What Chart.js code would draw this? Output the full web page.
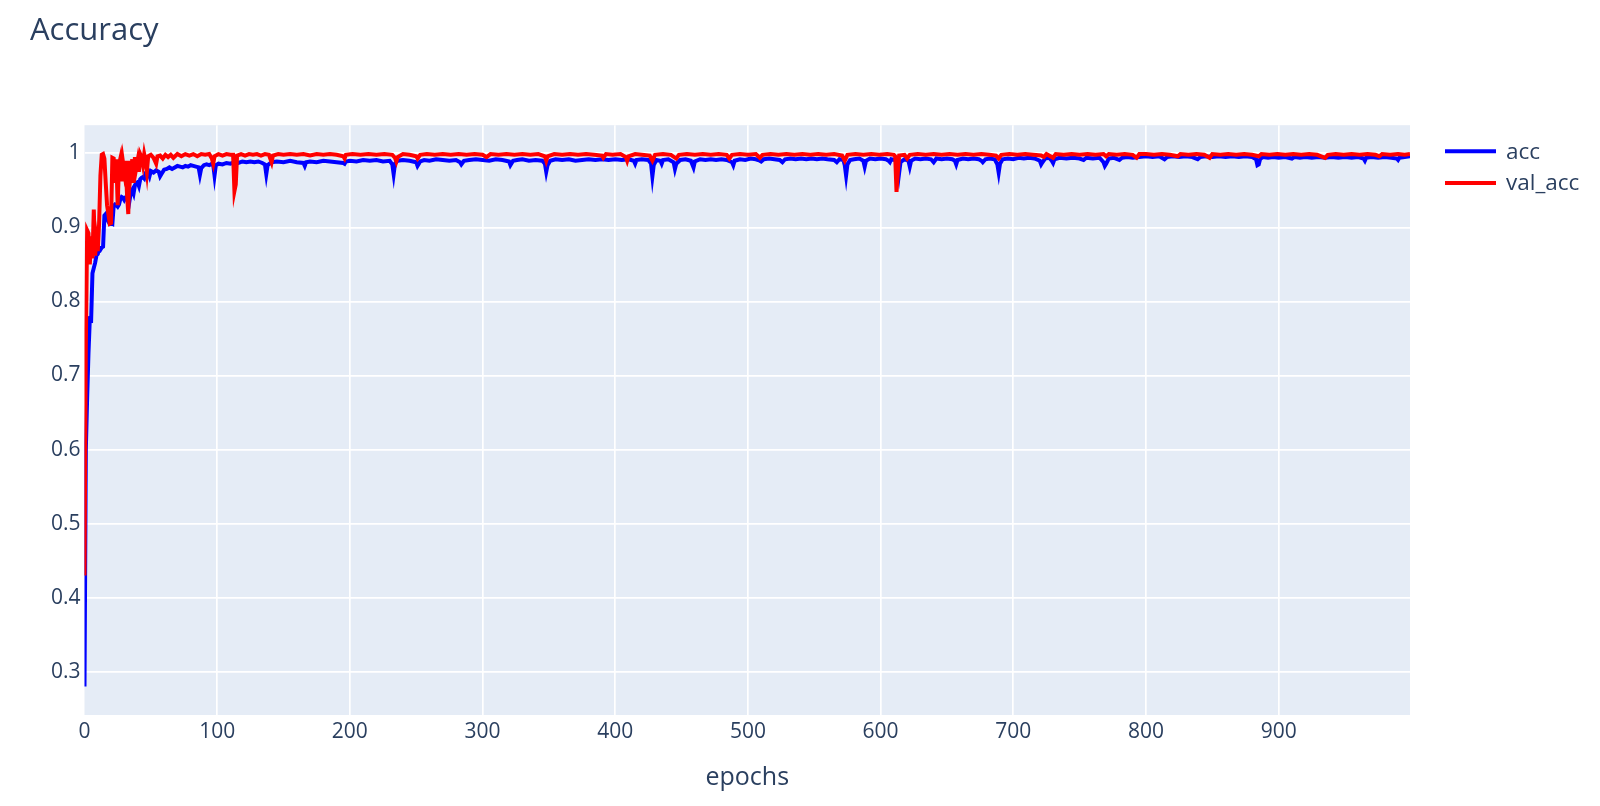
<!DOCTYPE html>
<html>
<head>
<meta charset="utf-8">
<title>Accuracy</title>
<script src="https://cdn.jsdelivr.net/npm/chart.js@4.4.1/dist/chart.umd.min.js"></script>
<style>
  html, body { margin: 0; padding: 0; background: #fff; }
  #wrap { width: 1600px; height: 806px; }
</style>
</head>
<body>
<div id="wrap"><canvas id="accChart"></canvas></div>
<script>
// values (epoch -> accuracy)
const accEpochs = [
  0, 1, 2, 3, 4, 5, 6, 7, 8, 9,
  10, 11, 12, 13, 14, 15, 16, 17, 18, 19,
  20, 21, 22, 23, 24, 25, 26, 27, 28, 29,
  30, 31, 32, 33, 34, 35, 36, 37, 38, 39,
  40, 41, 42, 43, 44, 45, 46, 47, 48, 49,
  50, 52, 54, 56, 57, 58, 60, 62, 64, 66,
  68, 70, 72, 74, 76, 78, 80, 82, 84, 86,
  87, 88, 90, 92, 94, 96, 97, 98, 99, 101,
  104, 107, 110, 113, 116, 119, 122, 125, 128, 131,
  134, 136, 137, 138, 141, 145, 150, 155, 160, 165,
  166, 167, 170, 175, 180, 185, 190, 195, 196, 197,
  200, 205, 210, 215, 220, 225, 230, 232, 233, 234,
  236, 240, 245, 250, 251, 253, 256, 260, 265, 270,
  275, 280, 283, 284, 286, 290, 295, 300, 305, 310,
  315, 320, 321, 323, 326, 330, 335, 340, 345, 347,
  348, 349, 351, 355, 360, 365, 370, 375, 380, 385,
  390, 395, 400, 405, 410, 414, 415, 416, 420, 425,
  427, 428, 429, 431, 434, 435, 436, 440, 444, 445,
  446, 449, 453, 457, 459, 460, 464, 468, 472, 476,
  480, 484, 488, 489, 490, 494, 498, 502, 506, 509,
  510, 512, 516, 520, 524, 526, 528, 532, 536, 540,
  544, 548, 552, 556, 560, 565, 567, 569, 572, 573,
  574, 575, 577, 580, 584, 587, 588, 589, 592, 596,
  600, 604, 606, 607, 608, 611, 613, 614, 615, 618,
  621, 622, 623, 626, 630, 634, 638, 640, 642, 646,
  650, 654, 656, 657, 658, 662, 666, 670, 674, 676,
  677, 679, 682, 686, 688, 689, 690, 692, 696, 700,
  704, 708, 712, 716, 720, 721, 722, 724, 727, 729,
  730, 731, 735, 740, 745, 750, 753, 755, 760, 765,
  768, 769, 770, 772, 776, 780, 782, 786, 790, 795,
  800, 805, 810, 814, 816, 820, 825, 830, 835, 839,
  841, 845, 850, 855, 860, 865, 870, 875, 880, 883,
  884, 885, 886, 888, 892, 896, 900, 905, 910, 912,
  916, 920, 925, 930, 935, 940, 945, 950, 955, 960,
  964, 965, 966, 970, 975, 980, 985, 989, 990, 991,
  995, 999
];
const accValues = [
  0.28, 0.60, 0.67, 0.73, 0.776, 0.775, 0.838, 0.845, 0.852, 0.862,
  0.864, 0.872, 0.870, 0.873, 0.874, 0.916, 0.918, 0.912, 0.908, 0.905,
  0.906, 0.905, 0.929, 0.931, 0.930, 0.928, 0.931, 0.938, 0.941, 0.940,
  0.937, 0.940, 0.939, 0.943, 0.937, 0.948, 0.951, 0.946, 0.957, 0.960,
  0.961, 0.956, 0.965, 0.967, 0.968, 0.966, 0.972, 0.971, 0.974, 0.969,
  0.976, 0.974, 0.977, 0.975, 0.969, 0.972, 0.978, 0.979, 0.981, 0.979,
  0.981, 0.983, 0.982, 0.981, 0.983, 0.982, 0.984, 0.983, 0.982, 0.981,
  0.971, 0.980, 0.984, 0.985, 0.984, 0.986, 0.985, 0.970, 0.984, 0.986,
  0.985, 0.987, 0.986, 0.988, 0.987, 0.989, 0.988, 0.989, 0.988, 0.989,
  0.987, 0.985, 0.972, 0.984, 0.988, 0.989, 0.988, 0.990, 0.988, 0.987,
  0.983, 0.988, 0.989, 0.988, 0.990, 0.989, 0.988, 0.987, 0.986, 0.989,
  0.990, 0.989, 0.991, 0.990, 0.991, 0.989, 0.990, 0.985, 0.972, 0.986,
  0.990, 0.991, 0.990, 0.988, 0.983, 0.989, 0.991, 0.990, 0.992, 0.991,
  0.990, 0.991, 0.988, 0.985, 0.990, 0.991, 0.992, 0.991, 0.990, 0.992,
  0.991, 0.989, 0.984, 0.990, 0.991, 0.992, 0.990, 0.991, 0.990, 0.986,
  0.975, 0.984, 0.990, 0.992, 0.991, 0.992, 0.990, 0.991, 0.992, 0.991,
  0.992, 0.991, 0.992, 0.991, 0.992, 0.990, 0.986, 0.991, 0.992, 0.991,
  0.986, 0.969, 0.984, 0.991, 0.990, 0.986, 0.991, 0.992, 0.988, 0.979,
  0.986, 0.991, 0.992, 0.990, 0.981, 0.989, 0.992, 0.991, 0.992, 0.991,
  0.992, 0.991, 0.988, 0.984, 0.990, 0.992, 0.991, 0.993, 0.992, 0.990,
  0.989, 0.992, 0.993, 0.992, 0.991, 0.988, 0.992, 0.993, 0.992, 0.993,
  0.992, 0.993, 0.992, 0.993, 0.992, 0.991, 0.988, 0.992, 0.991, 0.984,
  0.970, 0.985, 0.991, 0.992, 0.993, 0.990, 0.982, 0.990, 0.993, 0.992,
  0.993, 0.992, 0.990, 0.988, 0.992, 0.991, 0.990, 0.974, 0.988, 0.992,
  0.990, 0.982, 0.990, 0.993, 0.992, 0.993, 0.992, 0.988, 0.993, 0.992,
  0.993, 0.992, 0.990, 0.985, 0.991, 0.993, 0.992, 0.993, 0.992, 0.990,
  0.988, 0.992, 0.993, 0.992, 0.985, 0.974, 0.986, 0.992, 0.993, 0.992,
  0.994, 0.993, 0.994, 0.993, 0.990, 0.985, 0.988, 0.993, 0.994, 0.990,
  0.987, 0.992, 0.994, 0.993, 0.994, 0.993, 0.991, 0.994, 0.993, 0.994,
  0.988, 0.983, 0.986, 0.993, 0.994, 0.991, 0.994, 0.995, 0.994, 0.995,
  0.996, 0.995, 0.996, 0.992, 0.995, 0.996, 0.995, 0.996, 0.995, 0.992,
  0.995, 0.996, 0.995, 0.996, 0.995, 0.996, 0.995, 0.996, 0.995, 0.992,
  0.984, 0.985, 0.992, 0.995, 0.994, 0.995, 0.994, 0.995, 0.993, 0.995,
  0.994, 0.995, 0.994, 0.995, 0.994, 0.995, 0.994, 0.995, 0.994, 0.995,
  0.993, 0.990, 0.994, 0.995, 0.994, 0.995, 0.994, 0.993, 0.991, 0.994,
  0.995, 0.996
];

const valEpochs = [
  0, 1, 2, 3, 4, 5, 6, 7, 8, 9,
  10, 11, 12, 13, 14, 15, 16, 17, 18, 19,
  20, 21, 22, 23, 24, 25, 26, 27, 28, 29,
  30, 31, 32, 33, 34, 35, 36, 37, 38, 39,
  40, 41, 42, 43, 44, 45, 46, 47, 48,
  50, 52, 54, 55, 57, 59, 61, 63, 65, 67,
  70, 73, 76, 79, 82, 85, 88, 91, 94, 96,
  97, 98, 101, 104, 107, 110, 112, 113, 114, 115,
  118, 121, 124, 127, 130, 133, 136, 139, 140, 141,
  142, 146, 150, 155, 160, 165, 170, 175, 180, 185,
  190, 195, 196, 197, 202, 208, 214, 220, 226, 232,
  234, 235, 236, 240, 245, 250, 251, 253, 258, 264,
  270, 276, 282, 288, 294, 300, 303, 306, 312, 318,
  324, 330, 336, 342, 347, 348, 349, 354, 360, 366,
  372, 378, 384, 390, 391, 393, 398, 404, 408, 409,
  410, 415, 420, 426, 428, 430, 436, 442, 446, 448,
  454, 460, 466, 472, 478, 484, 486, 488, 494, 500,
  506, 509, 511, 517, 523, 529, 535, 541, 547, 553,
  559, 565, 571, 573, 575, 581, 587, 593, 599, 605,
  610, 611, 612, 613, 614, 618, 620, 622, 628, 634,
  640, 646, 652, 658, 664, 670, 676, 682, 687, 689,
  691, 697, 703, 709, 715, 721, 723, 725, 730, 732,
  738, 744, 750, 756, 762, 768, 770, 772, 778, 784,
  790, 793, 795, 800, 806, 812, 818, 824, 826, 832,
  838, 844, 848, 850, 856, 862, 868, 874, 880, 885,
  887, 893, 899, 905, 911, 917, 923, 929, 935, 937,
  943, 949, 955, 961, 967, 973, 976, 978, 984, 990,
  995, 999
];
const valValues = [
  0.43, 0.74, 0.896, 0.892, 0.85, 0.888, 0.858, 0.924, 0.862, 0.883,
  0.868, 0.905, 0.97, 0.998, 0.999, 0.993, 0.96, 0.93, 0.918, 0.905,
  0.906, 0.994, 0.993, 0.96, 0.992, 0.93, 0.985, 0.993, 0.962, 0.988,
  0.975, 0.99, 0.946, 0.918, 0.99, 0.975, 0.992, 0.96, 0.995, 0.98,
  0.99, 0.975, 0.999, 0.995, 0.985, 0.999, 0.99, 0.975, 0.996,
  0.998, 0.994, 0.986, 0.996, 0.997, 0.993, 0.998, 0.995, 0.998, 0.994,
  0.999, 0.996, 0.999, 0.997, 0.999, 0.996, 0.999, 0.998, 0.999, 0.993,
  0.986, 0.996, 0.999, 0.997, 0.999, 0.998, 0.998, 0.949, 0.958, 0.997,
  0.999, 0.997, 0.999, 0.998, 0.999, 0.997, 0.999, 0.998, 0.993, 0.988,
  0.997, 0.999, 0.998, 0.999, 0.998, 0.999, 0.997, 0.999, 0.998, 0.999,
  0.998, 0.996, 0.993, 0.998, 0.999, 0.998, 0.999, 0.998, 0.999, 0.998,
  0.994, 0.989, 0.995, 0.999, 0.998, 0.996, 0.993, 0.998, 0.999, 0.998,
  0.999, 0.998, 0.999, 0.998, 0.999, 0.998, 0.995, 0.999, 0.998, 0.999,
  0.998, 0.999, 0.998, 0.999, 0.996, 0.990, 0.996, 0.999, 0.998, 0.999,
  0.998, 0.999, 0.998, 0.997, 0.994, 0.999, 0.998, 0.999, 0.995, 0.990,
  0.996, 0.999, 0.998, 0.997, 0.990, 0.998, 0.999, 0.998, 0.993, 0.998,
  0.999, 0.998, 0.999, 0.998, 0.999, 0.998, 0.993, 0.998, 0.999, 0.998,
  0.999, 0.994, 0.998, 0.999, 0.998, 0.999, 0.998, 0.999, 0.998, 0.999,
  0.998, 0.999, 0.997, 0.990, 0.998, 0.999, 0.998, 0.999, 0.998, 0.999,
  0.998, 0.996, 0.948, 0.975, 0.997, 0.998, 0.993, 0.998, 0.999, 0.998,
  0.999, 0.998, 0.999, 0.998, 0.999, 0.998, 0.999, 0.998, 0.997, 0.993,
  0.998, 0.999, 0.998, 0.999, 0.998, 0.997, 0.995, 0.999, 0.994, 0.999,
  0.998, 0.999, 0.998, 0.999, 0.998, 0.999, 0.996, 0.999, 0.998, 0.999,
  0.998, 0.994, 0.999, 0.999, 0.998, 0.999, 0.998, 0.996, 0.999, 0.998,
  0.999, 0.998, 0.994, 0.999, 0.998, 0.999, 0.998, 0.999, 0.998, 0.996,
  0.999, 0.998, 0.999, 0.998, 0.999, 0.998, 0.999, 0.998, 0.994, 0.998,
  0.999, 0.998, 0.999, 0.998, 0.999, 0.998, 0.996, 0.999, 0.998, 0.999,
  0.998, 0.999
];

const seriesNames = ['acc', 'val_acc'];
const seriesColors = ['#0000ff', '#ff0000'];
const xTickValues = [0, 100, 200, 300, 400, 500, 600, 700, 800, 900];
const yTickValues = [0.3, 0.4, 0.5, 0.6, 0.7, 0.8, 0.9, 1];

const textColor = '#2a3f5f';
const fontFamily = '"Open Sans", verdana, arial, sans-serif';

if (accEpochs.length !== accValues.length || valEpochs.length !== valValues.length) {
  console.error('length mismatch', accEpochs.length, accValues.length, valEpochs.length, valValues.length);
}

function toPoints(xs, ys) {
  return xs.map((x, i) => ({ x: x, y: ys[i] }));
}

// light blue plot background, like plotly
const plotBackground = {
  id: 'plotBackground',
  beforeDraw(chart) {
    const { ctx, chartArea: a } = chart;
    ctx.save();
    ctx.fillStyle = '#e5ecf6';
    ctx.fillRect(a.left, a.top, a.right - a.left, a.bottom - a.top);
    ctx.restore();
  }
};

// legend on the right, outside the plot
const sideLegend = {
  id: 'sideLegend',
  afterDraw(chart) {
    const { ctx, chartArea: a } = chart;
    ctx.save();
    ctx.font = '22.5px ' + fontFamily;
    ctx.textBaseline = 'middle';
    ctx.textAlign = 'left';
    chart.data.datasets.forEach((ds, i) => {
      const y = a.top + 26 + i * 31.7;
      ctx.strokeStyle = ds.borderColor;
      ctx.lineWidth = 4;
      ctx.beginPath();
      ctx.moveTo(a.right + 35, y);
      ctx.lineTo(a.right + 86, y);
      ctx.stroke();
      ctx.fillStyle = textColor;
      ctx.fillText(ds.label, a.right + 96, y + 1);
    });
    ctx.restore();
  }
};

const ctx = document.getElementById('accChart').getContext('2d');
const accChart = new Chart(ctx, {
  type: 'line',
  data: {
    datasets: [
      {
        label: seriesNames[0],
        data: toPoints(accEpochs, accValues),
        borderColor: seriesColors[0],
        borderWidth: 4,
        pointRadius: 0,
        tension: 0,
        fill: false,
        order: 2
      },
      {
        label: seriesNames[1],
        data: toPoints(valEpochs, valValues),
        borderColor: seriesColors[1],
        borderWidth: 4,
        pointRadius: 0,
        tension: 0,
        fill: false,
        order: 1
      }
    ]
  },
  options: {
    responsive: true,
    maintainAspectRatio: false,
    animation: false,
    devicePixelRatio: 1,
    layout: { padding: { left: 30, right: 190, top: 0, bottom: 0 } },
    plugins: {
      legend: { display: false },
      tooltip: { enabled: false },
      title: {
        display: true,
        text: 'Accuracy',
        align: 'start',
        color: textColor,
        font: { family: fontFamily, size: 31, weight: 'normal' },
        padding: { top: 12.5, bottom: 75.5 }
      }
    },
    scales: {
      x: {
        type: 'linear',
        min: 0,
        max: 999,
        afterBuildTicks: (s) => { s.ticks = xTickValues.map((v) => ({ value: v })); },
        ticks: {
          autoSkip: false,
          maxRotation: 0,
          padding: 4,
          color: textColor,
          font: { family: fontFamily, size: 21 }
        },
        grid: {
          color: (c) => (c.tick && c.tick.value === 0 ? 'rgba(0,0,0,0)' : '#ffffff'),
          lineWidth: 1.7,
          drawTicks: false
        },
        border: { display: false },
        title: {
          display: true,
          text: 'epochs',
          color: textColor,
          font: { family: fontFamily, size: 25 },
          padding: { top: 0, bottom: 13 }
        },
        afterFit: (s) => { s.height = 91; }
      },
      y: {
        min: 0.2415,
        max: 1.038,
        afterBuildTicks: (s) => { s.ticks = yTickValues.map((v) => ({ value: v })); },
        ticks: {
          padding: 4,
          color: textColor,
          font: { family: fontFamily, size: 21 },
          callback: (v) => String(Number(Number(v).toFixed(2)))
        },
        grid: {
          color: '#ffffff',
          lineWidth: 1.7,
          drawTicks: false
        },
        border: { display: false },
        afterFit: (s) => { s.width = 54.5; }
      }
    }
  },
  plugins: [plotBackground, sideLegend]
});
</script>
</body>
</html>
